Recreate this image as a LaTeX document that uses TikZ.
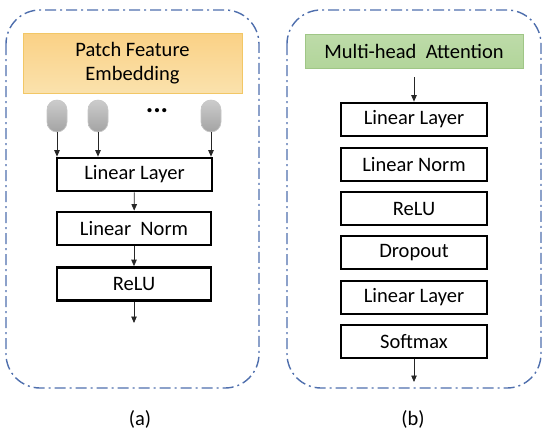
\documentclass[tikz,border=0pt]{standalone}
\usepackage{fontspec}
\setmainfont{Carlito}
\usetikzlibrary{arrows.meta,shadings}
\definecolor{frameblue}{HTML}{4F6FAD}
\definecolor{orfill}{HTML}{F9D891}
\definecolor{orline}{HTML}{F2C766}
\definecolor{grfill}{HTML}{B2D59A}
\definecolor{grline}{HTML}{9FC686}
\tikzset{
  px/.style={x=1pt,y=-1pt},
  frame/.style={draw=frameblue,line width=1.4pt,rounded corners=34pt,dash pattern=on 11pt off 4pt on 2pt off 4pt},
  layer/.style={draw=black,line width=2.7pt,fill=white,minimum width=#1,minimum height=33pt,inner sep=0pt,font=\fontsize{20.5}{24}\selectfont},
  head/.style={inner sep=0pt,font=\fontsize{20.5}{24}\selectfont,align=center},
  capsule/.style={rounded corners=9.9pt,minimum width=20pt,minimum height=32pt,inner sep=0pt,top color=gray!40,bottom color=gray!72,draw=gray!45,line width=0.6pt},
  conn/.style={-{Triangle[length=6.5pt,width=5.5pt]},line width=0.8pt,draw=black!85},
  captext/.style={font=\fontsize{20.5}{24}\selectfont}
}
\begin{document}
\begin{tikzpicture}[px]
\useasboundingbox (0,0) rectangle (550,439);
% frames
\draw[frame] (6,10) rectangle (259,388);
\draw[frame] (287,10) rectangle (541,388);
% left panel
\node[head,draw=orline,line width=0.8pt,top color=orfill!92!orange,bottom color=orfill!75!white,minimum width=219pt,minimum height=60pt] (pfe) at (132.5,63) {Patch Feature\\Embedding};
\node[capsule] (c1) at (57,116) {};
\node[capsule] (c2) at (98,116) {};
\node[capsule] (c3) at (211,116) {};
\node[font=\fontsize{28}{30}\selectfont\bfseries] (dots) at (157,111) {...};
\node[layer=155pt] (ll1) at (134.5,174.5) {Linear Layer};
\node[layer=154pt] (ln1) at (134,228.5) {Linear\ \ Norm};
\node[layer=154pt] (re1) at (134,284) {ReLU};
\coordinate (out1) at (134,323);
\draw[conn] (c1.south) -- (c1.south |- ll1.north);
\draw[conn] (c2.south) -- (c2.south |- ll1.north);
\draw[conn] (c3.south) -- (c3.south |- ll1.north);
\draw[conn] (ll1) -- (ln1);
\draw[conn] (ln1) -- (re1);
\draw[conn] (re1) -- (out1);
\node[captext] (capa) at (140,419) {(a)};
% right panel
\node[head,draw=grline,line width=0.8pt,top color=grfill!85!white,bottom color=grfill,minimum width=218pt,minimum height=34pt] (mha) at (414,51) {Multi-head\ \ Attention};
\node[layer=146pt] (ll2) at (414,119.5) {Linear Layer};
\node[layer=146pt] (ln2) at (414,164.5) {Linear Norm};
\node[layer=146pt] (re2) at (414,208.5) {ReLU};
\node[layer=146pt] (dr2) at (414,252.5) {Dropout};
\node[layer=146pt] (ll3) at (414,297.5) {Linear Layer};
\node[layer=146pt] (sm2) at (414,341.5) {Softmax};
\coordinate (in2) at (414,77);
\coordinate (out2) at (414,382);
\draw[conn] (in2) -- (ll2);
\draw[conn] (sm2) -- (out2);
\node[captext] (capb) at (413,419) {(b)};
\end{tikzpicture}
\end{document}
